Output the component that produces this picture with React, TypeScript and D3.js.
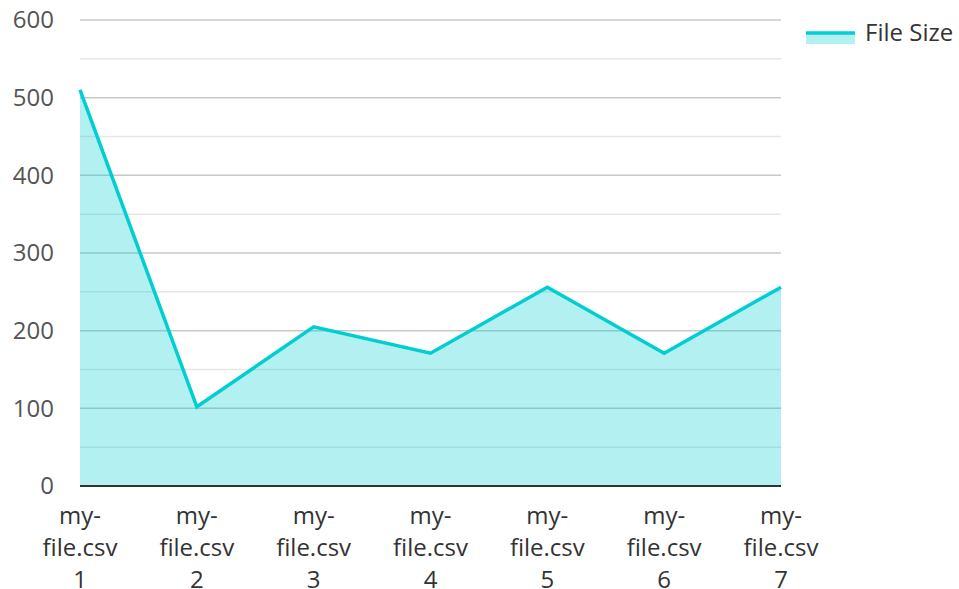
import React from "react";
import * as d3 from "d3";

const categories = ["my-file.csv 1", "my-file.csv 2", "my-file.csv 3", "my-file.csv 4", "my-file.csv 5", "my-file.csv 6", "my-file.csv 7"];
const fileSizes = [510, 102, 205, 171, 256, 171, 256];
const majorTicks = [0, 100, 200, 300, 400, 500, 600];
const minorTicks = [50, 150, 250, 350, 450, 550];
const seriesName = "File Size";

const W = 959, H = 589;
const LEFT = 80, RIGHT = 781, TOP = 20, BOTTOM = 486;
const LINE = "#00CED1";
const FONT = "'Open Sans', 'Noto Sans', sans-serif";

export default function App() {
  const x = d3.scalePoint<string>().domain(categories).range([LEFT, RIGHT]);
  const y = d3.scaleLinear().domain([0, 600]).range([BOTTOM, TOP]);
  const data = categories.map((c, i) => ({ c, v: fileSizes[i] }));
  const line = d3.line<{ c: string; v: number }>().x(d => x(d.c)!).y(d => y(d.v));
  const area = d3.area<{ c: string; v: number }>().x(d => x(d.c)!).y0(y(0)).y1(d => y(d.v));

  return (
    <svg width={W} height={H} style={{ position: "absolute", left: 0, top: 0, background: "#fff" }} fontFamily={FONT}>
      {minorTicks.map(t => (
        <line key={"m" + t} x1={LEFT} x2={RIGHT} y1={y(t)} y2={y(t)} stroke="#e6e6e6" strokeWidth={1.5} />
      ))}
      {majorTicks.map(t => (
        <line key={"M" + t} x1={LEFT} x2={RIGHT} y1={y(t)} y2={y(t)} stroke="#c8c8c8" strokeWidth={1.5} />
      ))}
      <path d={area(data)!} fill={LINE} fillOpacity={0.3} />
      <path d={line(data)!} fill="none" stroke={LINE} strokeWidth={3.5} strokeLinejoin="miter" />
      <line x1={LEFT} x2={RIGHT} y1={y(0)} y2={y(0)} stroke="#333" strokeWidth={2} />
      {majorTicks.map(t => (
        <text key={"t" + t} x={54} y={y(t)} dy="0.35em" textAnchor="end" fontSize={24} fill="#555">{t}</text>
      ))}
      {categories.map(c => {
        const parts = c.split(" ");
        const lines = ["my-", parts[0].replace("my-", ""), parts[1]];
        return (
          <text key={c} x={x(c)} textAnchor="middle" fontSize={24} fill="#333">
            {lines.map((l, i) => (
              <tspan key={i} x={x(c)} y={524 + i * 32}>{l}</tspan>
            ))}
          </text>
        );
      })}
      <rect x={806} y={34} width={49} height={10} fill={LINE} fillOpacity={0.3} />
      <line x1={806} x2={855} y1={33} y2={33} stroke={LINE} strokeWidth={3.5} />
      <text x={865} y={33} dy="0.35em" fontSize={24} fill="#333">{seriesName}</text>
    </svg>
  );
}
